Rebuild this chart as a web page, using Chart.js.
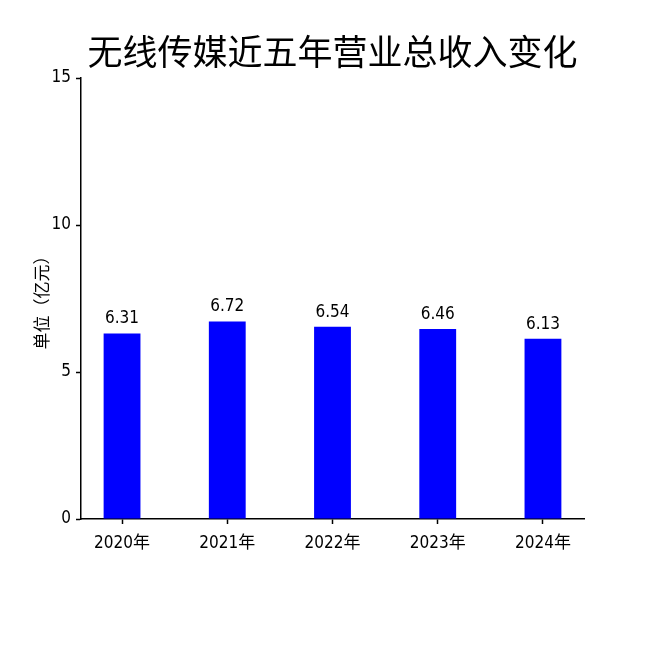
<!DOCTYPE html>
<html>
<head>
<meta charset="utf-8">
<script src="https://cdn.jsdelivr.net/npm/chart.js@4/dist/chart.umd.min.js"></script>
<style>
  html, body { margin: 0; padding: 0; background: #fff; }
  #wrap { width: 650px; height: 650px; }
</style>
</head>
<body>
<div id="wrap"><canvas id="chart"></canvas></div>
<script>
const chartTitle = '无线传媒近五年营业总收入变化';
const years = ['2020年', '2021年', '2022年', '2023年', '2024年'];
const revenue = [6.31, 6.72, 6.54, 6.46, 6.13];
const yTicks = [0, 5, 10, 15];

const numFont = "'Liberation Sans Narrow', 'DejaVu Sans Condensed', 'Noto Sans CJK SC', sans-serif";
const cjkFont = "'Noto Sans CJK SC', sans-serif";

// title centred over the plot area
const plotTitle = {
  id: 'plotTitle',
  afterDraw(chart) {
    const { ctx, chartArea } = chart;
    ctx.save();
    ctx.font = '35px ' + cjkFont;
    ctx.fillStyle = '#000';
    ctx.textAlign = 'center';
    ctx.textBaseline = 'middle';
    ctx.fillText(chartTitle, (chartArea.left + chartArea.right) / 2, 52);
    ctx.restore();
  }
};

// value labels above bars
const barValues = {
  id: 'barValues',
  afterDatasetsDraw(chart) {
    const { ctx } = chart;
    const meta = chart.getDatasetMeta(0);
    ctx.save();
    ctx.font = '17px ' + numFont;
    ctx.fillStyle = '#000';
    ctx.textAlign = 'center';
    ctx.textBaseline = 'bottom';
    meta.data.forEach((bar, i) => {
      ctx.fillText(revenue[i].toFixed(2), bar.x, bar.y - 6);
    });
    ctx.restore();
  }
};

new Chart(document.getElementById('chart'), {
  type: 'bar',
  data: {
    datasets: [{
      data: revenue.map((v, i) => ({ x: i, y: v })),
      backgroundColor: '#0000ff',
      borderWidth: 0,
      categoryPercentage: 1,
      barPercentage: 0.35
    }]
  },
  options: {
    responsive: true,
    maintainAspectRatio: false,
    animation: false,
    layout: { padding: { top: 78, left: 0, right: 66, bottom: 91 } },
    plugins: {
      legend: { display: false },
      tooltip: { enabled: false }
    },
    scales: {
      x: {
        type: 'linear',
        min: -0.39,
        max: 4.39,
        offset: false,
        afterFit(scale) { scale.height = 40; },
        afterBuildTicks(scale) {
          scale.ticks = years.map((_, i) => ({ value: i }));
        },
        ticks: {
          includeBounds: false,
          autoSkip: false,
          maxRotation: 0,
          color: '#000',
          font: { size: 17, family: numFont },
          padding: 9,
          callback: (v) => years[v] || ''
        },
        grid: { offset: false, drawOnChartArea: false, drawTicks: true, tickLength: 5, tickColor: '#000', tickWidth: 1.5 },
        border: { color: '#000', width: 1.5 }
      },
      y: {
        min: 0,
        max: 15,
        afterFit(scale) { scale.width = 81; },
        afterBuildTicks(scale) {
          scale.ticks = yTicks.map(v => ({ value: v }));
        },
        ticks: {
          color: '#000',
          font: { size: 17, family: numFont },
          padding: 5
        },
        grid: { drawOnChartArea: false, drawTicks: true, tickLength: 5, tickColor: '#000', tickWidth: 1.5 },
        border: { color: '#000', width: 1.5 },
        title: {
          display: true,
          text: '单位（亿元）',
          color: '#000',
          font: { size: 17, family: cjkFont },
          padding: { top: 31, bottom: 0 }
        }
      }
    }
  },
  plugins: [plotTitle, barValues]
});
</script>
</body>
</html>
